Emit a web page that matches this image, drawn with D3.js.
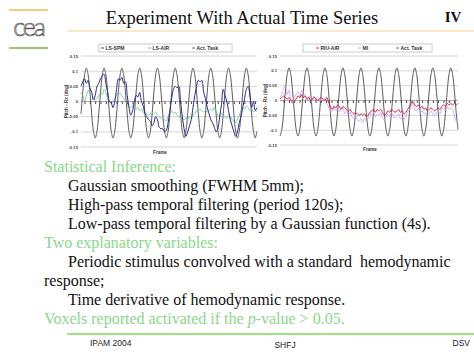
<!DOCTYPE html>
<html><head><meta charset="utf-8">
<script src="https://cdn.jsdelivr.net/npm/d3@7"></script>
<style>html,body{margin:0;padding:0;background:#fff;}svg{display:block;}</style>
</head><body>
<script>
// ---------------- DATA ----------------
const yTicks = [0.15, 0.1, 0.05, 0, -0.05, -0.1, -0.15];
const yTickLabels = ["0.15", "0.1", "0.05", "0", "-0.05", "-0.1", "-0.15"];

const lsSPM = [0.05,0.065,0.075,0.06,0.07,0.045,0.03,0.005,0.02,0.05,
  0.06,0.075,0.085,0.09,0.06,0.03,0.0,-0.005,-0.02,0.0,
  0.04,0.075,0.07,0.08,0.06,0.065,0.02,-0.02,-0.045,-0.03,
  0.0,0.02,0.015,0.03,0.0,-0.015,-0.04,-0.05,-0.06,-0.065,
  -0.08,-0.07,-0.05,-0.06,-0.085,-0.09,-0.09,-0.1,-0.095,-0.07,
  -0.03,0.01,0.04,0.05,0.045,0.05,0.0,-0.05,-0.09,-0.115,
  -0.1,-0.08,-0.06,-0.02,0.02,0.05,0.07,0.065,0.07,0.03,
  0.01,-0.02,-0.04,-0.06,-0.07,-0.085,-0.1,-0.09,-0.05,-0.01,
  0.04,0.02,0.0,-0.03,-0.06,-0.08,-0.1,-0.115,-0.1,-0.07,
  -0.05,-0.02,0.01,0.04,0.05,0.02,-0.02,0.0,-0.03,-0.02];

const lsAIR = [0.03,0.02,0.0,0.02,0.035,0.04,0.03,0.01,0.005,0.01,
  0.02,0.03,0.025,0.04,0.03,0.01,0.0,-0.005,0.0,0.01,
  0.02,0.03,0.025,0.02,0.01,0.0,-0.01,-0.02,-0.02,-0.015,
  -0.02,-0.025,-0.02,-0.03,-0.025,-0.035,-0.04,-0.04,-0.045,-0.04,
  -0.045,-0.04,-0.035,-0.045,-0.05,-0.055,-0.06,-0.06,-0.065,-0.05,
  -0.035,-0.03,-0.04,-0.035,-0.045,-0.05,-0.05,-0.055,-0.06,-0.055,
  -0.06,-0.05,-0.055,-0.045,-0.04,-0.03,-0.03,-0.025,-0.03,-0.035,
  -0.03,-0.035,-0.03,-0.025,-0.03,-0.02,-0.035,-0.045,-0.05,-0.04,
  -0.045,-0.05,-0.055,-0.045,-0.05,-0.06,-0.065,-0.07,-0.06,-0.045,
  -0.03,-0.02,-0.025,-0.015,-0.02,-0.03,-0.025,-0.035,-0.03,-0.035];

const actTaskLeft = [-0.041,0.031,0.088,0.11,0.088,0.031,-0.041,-0.098,-0.12,-0.098,
  -0.041,0.031,0.088,0.11,0.088,0.031,-0.041,-0.098,-0.12,-0.098,
  -0.041,0.031,0.088,0.11,0.088,0.031,-0.041,-0.098,-0.12,-0.098,
  -0.041,0.031,0.088,0.11,0.088,0.031,-0.041,-0.098,-0.12,-0.098,
  -0.041,0.031,0.088,0.11,0.088,0.031,-0.041,-0.098,-0.12,-0.098,
  -0.041,0.031,0.088,0.11,0.088,0.031,-0.041,-0.098,-0.12,-0.098,
  -0.041,0.031,0.088,0.11,0.088,0.031,-0.041,-0.098,-0.12,-0.098,
  -0.041,0.031,0.088,0.11,0.088,0.031,-0.041,-0.098,-0.12,-0.098,
  -0.041,0.031,0.088,0.11,0.088,0.031,-0.041,-0.098,-0.12,-0.098,
  -0.041,0.031,0.088,0.11,0.088,0.031,-0.041,-0.098,-0.12,-0.098];

const riuAIR = [0.005,0.01,0.015,0.01,0.005,0.01,0.0,-0.005,0.0,0.005,
  0.015,0.01,0.02,0.01,0.015,0.005,0.01,0.0,0.005,0.01,
  0.005,0.0,0.005,0.01,0.005,0.0,0.01,-0.005,-0.02,-0.03,
  -0.02,-0.025,-0.015,-0.02,-0.03,-0.02,-0.025,-0.03,-0.035,-0.03,
  -0.04,-0.045,-0.04,-0.045,-0.05,-0.045,-0.05,-0.045,-0.055,-0.05,
  -0.04,-0.035,-0.03,-0.04,-0.03,-0.035,-0.03,-0.04,-0.05,-0.045,
  -0.035,-0.04,-0.03,-0.035,-0.04,-0.035,-0.03,-0.04,-0.035,-0.045,
  -0.04,-0.03,-0.02,-0.01,-0.005,-0.015,-0.02,-0.015,-0.025,-0.02,
  -0.03,-0.025,-0.035,-0.03,-0.025,-0.03,-0.035,-0.03,-0.025,-0.03,
  -0.02,-0.015,-0.02,-0.01,-0.015,-0.01,-0.015,-0.01,-0.015,-0.01];

const miSeries = [0.01,0.02,0.04,0.05,0.02,0.035,0.0,-0.01,0.01,0.02,
  0.03,0.01,0.035,0.015,0.02,0.0,0.015,-0.01,0.005,0.015,
  0.0,0.01,-0.005,0.01,0.0,0.005,-0.01,-0.02,-0.035,-0.04,
  -0.02,-0.035,-0.025,-0.04,-0.03,-0.025,-0.045,-0.035,-0.05,-0.04,
  -0.055,-0.06,-0.05,-0.065,-0.07,-0.06,-0.075,-0.06,-0.07,-0.06,
  -0.05,-0.045,-0.04,-0.055,-0.045,-0.05,-0.04,-0.06,-0.065,-0.055,
  -0.045,-0.055,-0.04,-0.05,-0.06,-0.05,-0.045,-0.06,-0.055,-0.065,
  -0.05,-0.04,-0.03,-0.02,-0.01,-0.03,-0.035,-0.025,-0.04,-0.035,
  -0.045,-0.04,-0.05,-0.045,-0.035,-0.045,-0.05,-0.04,-0.035,-0.045,
  -0.03,-0.025,-0.035,-0.02,-0.03,-0.025,-0.03,-0.05,-0.07,-0.065];

const actTaskRight = [-0.12,-0.098,-0.041,0.031,0.088,0.11,0.088,0.031,-0.041,-0.098,
  -0.12,-0.098,-0.041,0.031,0.088,0.11,0.088,0.031,-0.041,-0.098,
  -0.12,-0.098,-0.041,0.031,0.088,0.11,0.088,0.031,-0.041,-0.098,
  -0.12,-0.098,-0.041,0.031,0.088,0.11,0.088,0.031,-0.041,-0.098,
  -0.12,-0.098,-0.041,0.031,0.088,0.11,0.088,0.031,-0.041,-0.098,
  -0.12,-0.098,-0.041,0.031,0.088,0.11,0.088,0.031,-0.041,-0.098,
  -0.12,-0.098,-0.041,0.031,0.088,0.11,0.088,0.031,-0.041,-0.098,
  -0.12,-0.098,-0.041,0.031,0.088,0.11,0.088,0.031,-0.041,-0.098,
  -0.12,-0.098,-0.041,0.031,0.088,0.11,0.088,0.031,-0.041,-0.098,
  -0.12,-0.098,-0.041,0.031,0.088,0.11,0.088,0.031,-0.041,-0.098];

const taskLevel = -0.004;

const leftLegend = ["LS-SPM", "LS-AIR", "Act. Task"];
const rightLegend = ["RIU-AIR", "MI", "Act. Task"];

const bodyLines = [
  {t: "Statistical Inference:", green: true, indent: false},
  {t: "Gaussian smoothing (FWHM 5mm);", indent: true},
  {t: "High-pass temporal filtering (period 120s);", indent: true},
  {t: "Low-pass temporal filtering by a Gaussian function (4s).", indent: true},
  {t: "Two explanatory variables:", green: true, indent: false},
  {t: "Periodic stimulus convolved with a standard  hemodynamic", indent: true},
  {t: "response;", indent: false},
  {t: "Time derivative of hemodynamic response.", indent: true},
  {parts: ["Voxels reported activated if the ", "p", "-value > 0.05."], green: true, indent: false}
];
const footer = ["IPAM 2004", "SHFJ", "DSV"];

// ---------------- DRAW ----------------
const W = 474, H = 355;
const svg = d3.select("body").append("svg").attr("width", W).attr("height", H);
const serif = "'Liberation Serif','Times New Roman',serif";
const sans = "'Liberation Sans',Arial,sans-serif";

// header decorations
svg.append("line").attr("x1", 9).attr("x2", 48).attr("y1", 10).attr("y2", 10).attr("stroke", "#f2bd55").attr("stroke-width", 1.3);
svg.append("text").attr("x", 28.5).attr("y", 36).attr("text-anchor", "middle")
  .attr("font-family", "Lato, sans-serif").attr("font-weight", 300).attr("font-size", 25).attr("letter-spacing", -2)
  .attr("fill", "none").attr("stroke", "#555").attr("stroke-width", 0.7).text("cea");
svg.append("line").attr("x1", 9).attr("x2", 48).attr("y1", 48).attr("y2", 48).attr("stroke", "#79b84a").attr("stroke-width", 1.3);

svg.append("text").attr("x", 242).attr("y", 24).attr("text-anchor", "middle")
  .attr("font-family", serif).attr("font-size", 18.5).attr("fill", "#111").text("Experiment With Actual Time Series");
svg.append("text").attr("x", 453).attr("y", 22).attr("text-anchor", "middle")
  .attr("font-family", serif).attr("font-size", 15).attr("font-weight", "bold").attr("fill", "#111").text("IV");
svg.append("line").attr("x1", 67).attr("x2", 474).attr("y1", 31).attr("y2", 31).attr("stroke", "#f4d48a").attr("stroke-width", 1.2);

function chart(cfg) {
  const g = svg.append("g");
  const x = d3.scaleLinear().domain([0, 99]).range([cfg.x0, cfg.x1]);
  const y = d3.scaleLinear().domain([-0.15, 0.15]).range([cfg.yb, cfg.yt]);
  g.selectAll(".grid").data(yTicks).join("line")
    .attr("x1", cfg.x0).attr("x2", cfg.x1)
    .attr("y1", d => y(d)).attr("y2", d => y(d))
    .attr("stroke", d => d === 0 ? "#777" : "#bbb").attr("stroke-width", 0.6);
  g.selectAll(".tl").data(yTicks).join("text")
    .attr("x", cfg.x0 - 3).attr("y", d => y(d) + 1.5).attr("text-anchor", "end")
    .attr("font-family", sans).attr("font-size", 4.2).attr("font-weight", "bold").attr("fill", "#444")
    .text((d, i) => yTickLabels[i]);
  g.append("text").attr("transform", `translate(${cfg.ytx},${y(0)}) rotate(-90)`).attr("text-anchor", "middle")
    .attr("font-family", sans).attr("font-size", 4.6).attr("font-weight", "bold").attr("fill", "#333").text("Pitch - Rx (deg)");
  g.append("text").attr("x", cfg.fx).attr("y", cfg.fy).attr("text-anchor", "middle")
    .attr("font-family", sans).attr("font-size", 4.6).attr("font-weight", "bold").attr("fill", "#333").text("Frame");

  const line = d3.line().x((d, i) => x(i)).y(d => y(d)).curve(d3.curveCatmullRom.alpha(0.5));
  cfg.series.forEach(s => {
    g.append("path").datum(s.data).attr("d", line).attr("fill", "none")
      .attr("stroke", s.color).attr("stroke-width", s.w).attr("stroke-linejoin", "round");
  });
  g.append("line").attr("x1", x(2)).attr("x2", x(99)).attr("y1", y(taskLevel)).attr("y2", y(taskLevel))
    .attr("stroke", "#333").attr("stroke-width", 2.4).attr("stroke-dasharray", "0.9,4.43");
  const lg = g.append("g");
  lg.append("rect").attr("x", cfg.lx0).attr("y", 44).attr("width", cfg.lx1 - cfg.lx0).attr("height", 8)
    .attr("fill", "#fff").attr("stroke", "#999").attr("stroke-width", 0.5);
  cfg.legend.forEach((name, i) => {
    const lx = cfg.lpos[i];
    lg.append("line").attr("x1", lx).attr("x2", lx + 3).attr("y1", 48).attr("y2", 48)
      .attr("stroke", cfg.legendColors[i]).attr("stroke-width", 0.9);
    lg.append("text").attr("x", lx + 4.5).attr("y", 50).attr("font-family", sans).attr("font-size", 5)
      .attr("font-weight", "bold").attr("fill", "#333").text(name);
  });
}

chart({x0: 81, x1: 257, yt: 56, yb: 147, ytx: 68, fx: 160, fy: 154,
  lx0: 99, lx1: 232, lpos: [101, 148, 192], legend: leftLegend,
  legendColors: ["#2a2a8c", "#5fc08a", "#555"],
  series: [
    {data: actTaskLeft, color: "#4a4a4a", w: 0.9},
    {data: lsAIR, color: "#5fc08a", w: 0.8},
    {data: lsSPM, color: "#2a2a8c", w: 1.0}
  ]
});

chart({x0: 280, x1: 458, yt: 56, yb: 145, ytx: 267, fx: 370, fy: 151,
  lx0: 303, lx1: 432, lpos: [316, 358, 396], legend: rightLegend,
  legendColors: ["#d81b3c", "#c4a0f0", "#555"],
  series: [
    {data: actTaskRight, color: "#4a4a4a", w: 0.9},
    {data: miSeries, color: "#c4a0f0", w: 0.8},
    {data: riuAIR, color: "#d81b3c", w: 1.0}
  ]
});

// body text
const green = "#8bd88b";
const bt = svg.append("g");
bodyLines.forEach((l, i) => {
  const t = bt.append("text").attr("x", l.indent ? 68 : 44).attr("y", 172 + i * 19.0)
    .attr("font-family", serif).attr("font-size", 16).attr("fill", l.green ? green : "#111")
    .style("white-space", "pre");
  if (l.parts) {
    l.parts.forEach((p, j) => t.append("tspan").attr("font-style", j === 1 ? "italic" : "normal").text(p));
  } else t.text(l.t);
});

// footer
svg.append("line").attr("x1", 67).attr("x2", 474).attr("y1", 334).attr("y2", 334).attr("stroke", "#7ed957").attr("stroke-width", 1.3);
svg.append("text").attr("x", 90).attr("y", 346).attr("font-family", sans).attr("font-size", 8.5).attr("fill", "#222").text(footer[0]);
svg.append("text").attr("x", 285).attr("y", 348).attr("text-anchor", "middle").attr("font-family", sans).attr("font-size", 8.5).attr("fill", "#222").text(footer[1]);
svg.append("text").attr("x", 470).attr("y", 346).attr("text-anchor", "end").attr("font-family", sans).attr("font-size", 8.5).attr("fill", "#222").text(footer[2]);
</script>
</body></html>
